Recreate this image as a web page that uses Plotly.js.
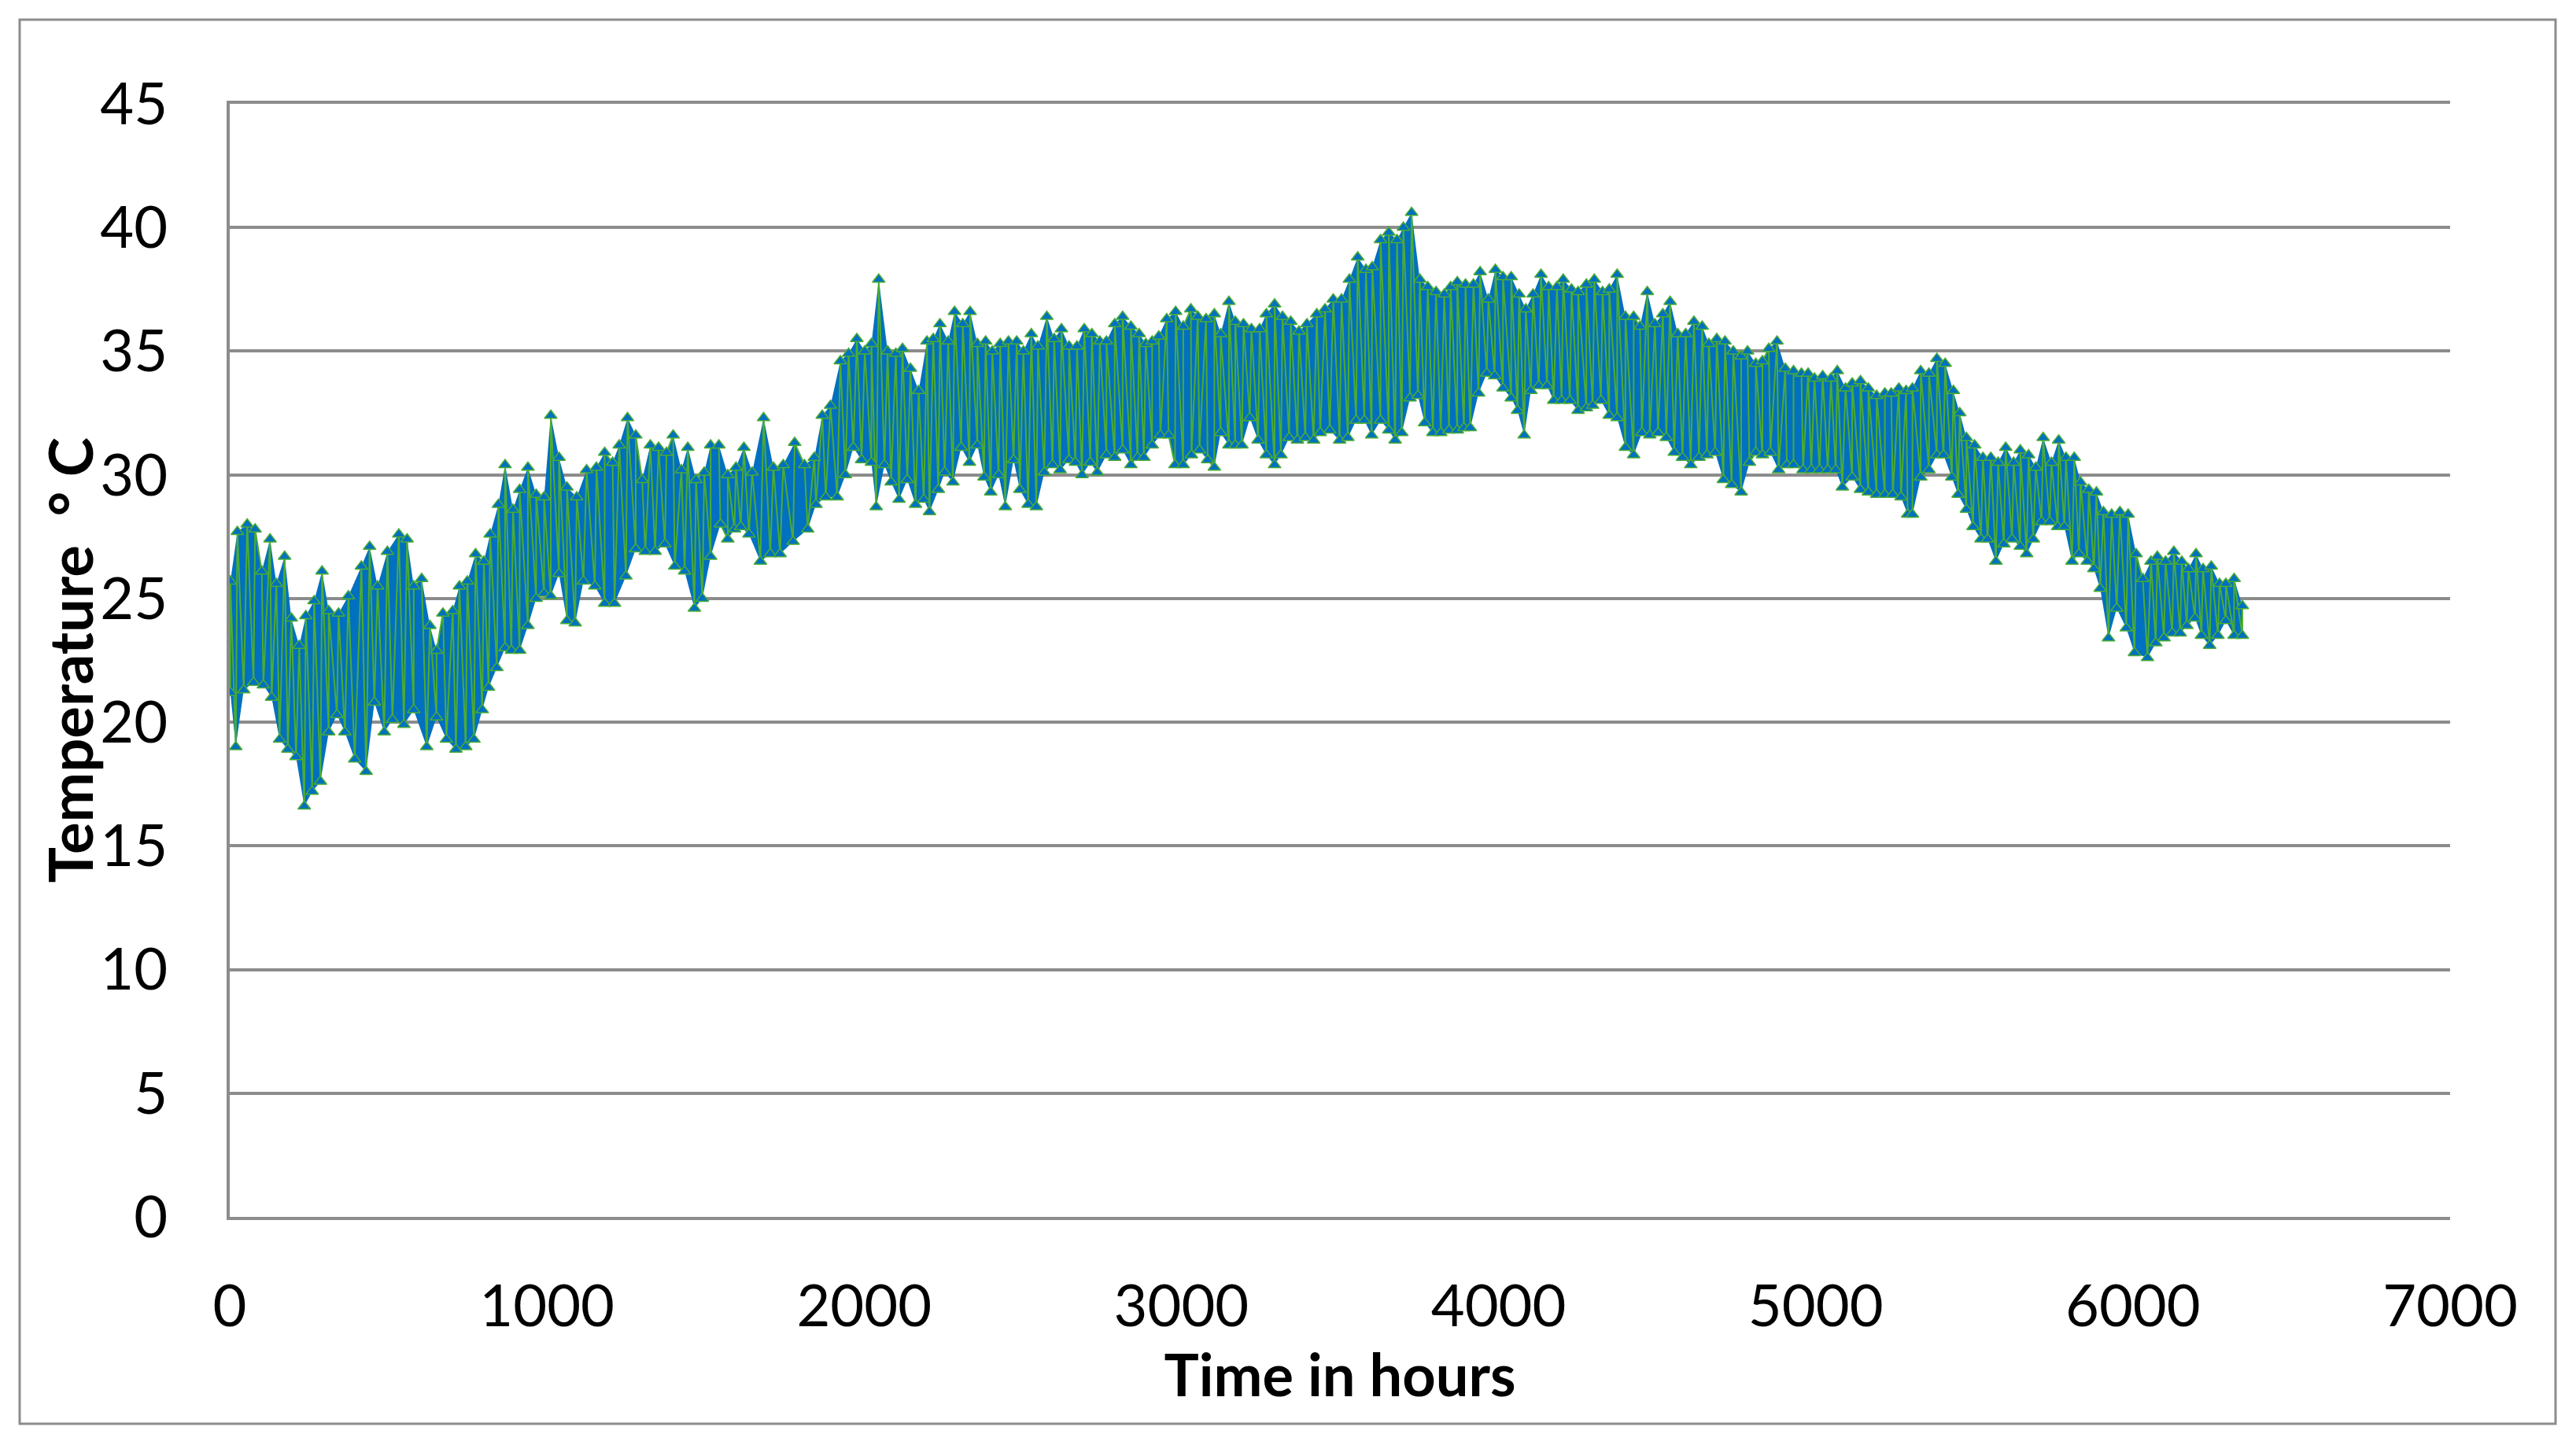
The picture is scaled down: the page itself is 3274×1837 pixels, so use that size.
<!DOCTYPE html>
<html>
<head>
<meta charset="utf-8">
<script src="https://cdn.plot.ly/plotly-3.0.1.min.js"></script>
<style>
  html, body { margin: 0; padding: 0; background: #ffffff; }
  #chart { width: 3274px; height: 1837px; }
</style>
</head>
<body>
<div id="chart"></div>
<script>
// ---- Data (daily highs / lows of the hourly series) ----
const peakHours = [2,24,55,80,101,127,147,173,194,219,240,266,291,312,343,374,415,441,466,497,533,559,580,605,631,652,672,703,724,749,775,801,821,847,868,893,914,940,966,991,1012,1038,1063,1094,1125,1156,1182,1207,1228,1254,1280,1300,1326,1352,1377,1398,1424,1444,1470,1496,1516,1542,
1570,1596,1621,1647,1683,1714,1745,1781,1812,1843,1868,1894,1925,1951,1977,2002,2023,2046,2074,2100,2121,2146,2172,2198,2218,2239,2265,2285,2311,2334,2357,2383,2404,2429,2455,2481,2502,2527,2548,2576,2599,2622,2646,2671,2694,2718,2743,2764,2790,2815,2841,2867,2888,2908,2929,2954,2982,3006,3030,3052,3078,3104,3124,3150,
3170,3196,3221,3247,3268,3294,3319,3345,3371,3396,3427,3453,3479,3505,3530,3556,3582,3602,3628,3654,3680,3700,3726,3752,3777,3803,3829,3849,3870,3896,3921,3942,3968,3990,4014,4040,4065,4086,4109,4134,4158,4184,4204,4230,4251,4277,4302,4328,4349,4374,4400,4426,4446,4469,4493,4518,4541,4565,4590,4616,4642,4663,4688,4714,4740,4765,
4785,4811,4832,4852,4878,4904,4930,4955,4976,4996,5022,5048,5068,5094,5115,5141,5166,5192,5218,5238,5262,5285,5305,5331,5357,5382,5408,5434,5454,5475,5501,5527,5552,5575,5599,5624,5645,5671,5694,5717,5743,5766,5789,5815,5835,5861,5885,5907,5933,5959,5985,6010,6031,6057,6077,6103,6129,6154,6175,6199,6221,6247,6273,6293,6319,6345];

const peakTemps = [25.7,27.7,28.0,27.8,26.1,27.4,25.6,26.7,24.2,23.1,24.3,24.9,26.1,24.5,24.4,25.1,26.3,27.1,25.5,26.9,27.6,27.4,25.5,25.8,23.9,22.9,24.4,24.5,25.5,25.7,26.8,26.5,27.6,28.8,30.4,28.6,29.4,30.3,29.2,29.1,32.4,30.7,29.5,29.1,30.2,30.3,30.9,30.5,31.2,32.3,31.6,29.8,31.2,31.1,30.9,31.6,30.2,31.1,29.8,30.1,31.2,31.2,
30.0,30.3,31.1,30.1,32.3,30.3,30.4,31.3,30.4,30.7,32.4,32.8,34.6,34.9,35.5,35.0,35.3,37.9,35.0,34.9,35.1,34.3,33.4,35.4,35.5,36.1,35.4,36.6,36.1,36.6,35.3,35.4,35.0,35.3,35.4,35.4,35.0,35.7,35.2,36.4,35.5,35.9,35.2,35.2,35.9,35.7,35.4,35.4,36.1,36.4,36.0,35.7,35.3,35.4,35.6,36.3,36.6,36.0,36.7,36.4,36.3,36.5,35.7,37.0,
36.2,36.1,35.9,35.9,36.5,36.9,36.4,36.2,35.8,36.1,36.5,36.7,37.1,37.1,37.9,38.8,38.3,38.4,39.5,39.8,39.5,40.0,40.6,37.9,37.6,37.4,37.3,37.6,37.8,37.7,37.7,38.2,37.1,38.3,38.0,38.0,37.3,36.7,37.3,38.1,37.6,37.6,37.9,37.5,37.4,37.7,37.9,37.4,37.5,38.1,36.4,36.4,36.0,37.4,36.1,36.5,37.0,35.7,35.7,36.2,36.0,35.3,35.5,35.4,35.0,34.8,
35.0,34.5,34.6,35.1,35.4,34.3,34.2,34.1,34.1,33.9,34.0,33.9,34.2,33.5,33.7,33.8,33.5,33.2,33.3,33.3,33.5,33.4,33.5,34.2,34.1,34.7,34.5,33.4,32.5,31.5,31.2,30.7,30.7,30.5,31.1,30.5,31.0,30.8,30.3,31.5,30.5,31.4,30.7,30.7,29.7,29.4,29.3,28.5,28.4,28.5,28.4,26.8,25.8,26.5,26.7,26.5,26.9,26.5,26.2,26.8,26.2,26.3,25.6,25.6,25.8,24.7];

const troughHours = [2,19,44,75,106,132,157,183,209,235,260,286,312,338,363,394,430,456,487,513,549,580,621,652,683,713,744,770,796,816,842,868,888,914,940,966,991,1012,1038,1063,1089,1115,1151,1182,1213,1249,1280,1310,1341,1372,1403,1434,1465,1490,1516,1547,
1570,1591,1611,1637,1673,1704,1735,1776,1822,1848,1879,1915,1941,1966,1992,2023,2038,2064,2085,2110,2136,2162,2188,2206,2234,2254,2280,2306,2332,2357,2378,2399,2424,2445,2471,2491,2517,2543,2568,2594,2618,2646,2666,2687,2713,2735,2764,2790,2815,2841,2862,2882,2908,2934,2960,2980,3006,3032,3057,3083,3104,3124,3150,
3170,3191,3216,3242,3268,3294,3314,3340,3366,3391,3417,3438,3468,3499,3525,3551,3577,3600,3628,3654,3674,3695,3721,3746,3767,3793,3818,3844,3870,3891,3911,3937,3963,3988,4014,4040,4060,4081,4102,4127,4153,4174,4199,4225,4251,4277,4297,4323,4349,4374,4400,4426,4452,4477,4503,4529,4554,4580,4606,4632,4657,4683,4709,4735,4765,
4791,4811,4832,4857,4883,4909,4930,4960,4986,5012,5038,5063,5084,5115,5141,5166,5192,5218,5243,5269,5290,5305,5331,5357,5382,5403,5429,5449,5475,5496,5521,5542,5568,5593,5619,5645,5665,5686,5712,5738,5763,5784,5808,5830,5856,5877,5897,5923,5949,5979,6005,6046,6072,6098,6124,6149,6170,6196,6216,6242,6268,6293,6319,6345];

const troughTemps = [21.2,19.0,21.3,21.6,21.5,21.0,19.3,18.9,18.6,16.6,17.2,17.6,19.6,20.3,19.6,18.5,18.0,20.8,19.6,20.1,19.9,20.5,19.0,20.2,19.3,18.9,19.0,19.3,20.5,21.4,22.2,23.0,22.9,22.9,23.9,25.0,25.2,25.1,26.0,24.1,24.0,25.7,25.5,24.8,24.8,25.9,27.0,26.9,26.9,27.2,26.3,26.1,24.6,25.0,26.7,28.0,
27.4,27.8,27.9,27.6,26.5,26.8,26.8,27.3,27.8,28.8,29.1,29.1,30.0,31.1,30.6,30.5,28.7,30.4,29.7,29.0,29.8,28.8,29.0,28.5,29.4,30.1,29.7,31.1,30.5,31.2,29.9,29.3,30.0,28.7,30.6,29.4,28.8,28.7,30.1,30.4,30.2,30.6,30.5,30.0,30.5,30.1,30.8,30.7,31.0,30.4,30.7,30.7,31.2,31.6,31.6,30.4,30.4,30.8,31.0,30.6,30.3,31.7,31.2,
31.2,31.2,32.3,31.4,30.8,30.4,30.8,31.5,31.4,31.5,31.4,31.7,31.8,31.4,31.5,32.2,32.2,31.6,32.2,31.8,31.4,31.7,33.1,33.2,32.1,31.7,31.7,31.8,31.8,31.9,31.9,33.3,34.1,34.0,33.5,33.1,32.6,31.6,33.4,33.6,33.6,33.0,33.0,33.0,32.6,32.7,32.8,33.0,32.4,32.3,31.1,30.8,31.7,31.6,31.7,31.5,30.9,30.7,30.4,30.7,30.8,30.9,29.8,29.6,29.3,
30.5,30.9,30.8,30.9,30.2,30.4,30.4,30.2,30.2,30.2,30.2,30.2,29.5,29.9,29.4,29.3,29.2,29.2,29.2,29.1,28.4,28.4,29.9,30.2,30.8,30.8,29.9,29.2,28.6,27.9,27.4,27.4,26.5,27.2,27.4,27.1,26.8,27.4,28.1,28.1,27.9,27.9,26.5,26.8,26.5,26.2,25.4,23.4,24.6,23.8,22.8,22.6,23.2,23.4,23.6,23.6,23.9,24.2,23.5,23.1,23.5,24.1,23.5,23.5];

const xTickValues = [0,1000,2000,3000,4000,5000,6000,7000];
const yTickValues = [0,5,10,15,20,25,30,35,40,45];
const xTitle = 'Time in hours';
const yTitle = 'Temperature\u00a0\u00a0° C';

// ---- Build the hourly-series outline: highs and lows merged in time order ----
const merged = [];
peakHours.forEach((h, i) => merged.push([h, peakTemps[i], 1]));
troughHours.forEach((h, i) => merged.push([h, troughTemps[i], 0]));
merged.sort((a, b) => a[0] - b[0] || a[2] - b[2]);
const lineX = merged.map(p => p[0]);
const lineY = merged.map(p => p[1]);

const BLUE = '#0070C0';
const GREEN = '#4BAC33';
const GRID = '#8C8C8C';
const FONT = 'Lato, "Open Sans", sans-serif';

const traces = [
  { x: peakHours, y: peakTemps, type: 'scatter', mode: 'lines',
    line: { width: 0, color: BLUE }, hoverinfo: 'skip', showlegend: false },
  { x: troughHours, y: troughTemps, type: 'scatter', mode: 'lines',
    line: { width: 0, color: BLUE }, fill: 'tonexty', fillcolor: BLUE,
    hoverinfo: 'skip', showlegend: false },
  { x: lineX, y: lineY, type: 'scatter', mode: 'lines+markers', name: 'Temperature',
    line: { color: GREEN, width: 2 },
    marker: { symbol: 'triangle-up', size: 14, color: BLUE, line: { color: GREEN, width: 1.5 } },
    showlegend: false }
];

const PL = 292, PR = 3114, PT = 132, PB = 1547;
const W = 3274, H = 1837;
const pw = PR - PL, ph = PB - PT;

const layout = {
  width: W, height: H,
  margin: { l: PL, r: W - PR, t: PT, b: H - PB, pad: 0 },
  paper_bgcolor: '#ffffff', plot_bgcolor: '#ffffff',
  showlegend: false,
  font: { family: FONT, color: '#000000', size: 74 },
  xaxis: {
    range: [0, 7000], tickvals: xTickValues, ticktext: xTickValues.map(String),
    showgrid: false, zeroline: false,
    showline: true, mirror: true, linecolor: GRID, linewidth: 4, ticks: '',
    tickfont: { family: FONT, size: 74, color: '#000' }, ticklabelstandoff: 46,
    title: { text: xTitle, font: { family: FONT, size: 74, color: '#000', weight: 'bold' }, standoff: 14 },
    automargin: false, fixedrange: true
  },
  yaxis: {
    range: [0, 45], tickvals: yTickValues, ticktext: yTickValues.map(String),
    showgrid: true, gridcolor: GRID, gridwidth: 4, zeroline: false,
    showline: true, linecolor: GRID, linewidth: 4, ticks: '',
    tickfont: { family: FONT, size: 74, color: '#000' }, ticklabelstandoff: 60,
    automargin: false, fixedrange: true
  },
  annotations: [
    { text: yTitle, xref: 'paper', yref: 'paper', x: (88 - PL) / pw, y: 0.5,
      xanchor: 'center', yanchor: 'middle', textangle: -90, showarrow: false,
      font: { family: FONT, size: 76, color: '#000', weight: 'bold' } }
  ],
  shapes: [
    { type: 'rect', xref: 'paper', yref: 'paper',
      x0: (25 - PL) / pw, x1: (3248 - PL) / pw,
      y0: (PB - 1810) / ph, y1: (PB - 25) / ph,
      line: { color: GRID, width: 3 }, fillcolor: 'rgba(0,0,0,0)', layer: 'below' }
  ]
};

Plotly.newPlot('chart', traces, layout, { staticPlot: true, displayModeBar: false });
</script>
</body>
</html>
